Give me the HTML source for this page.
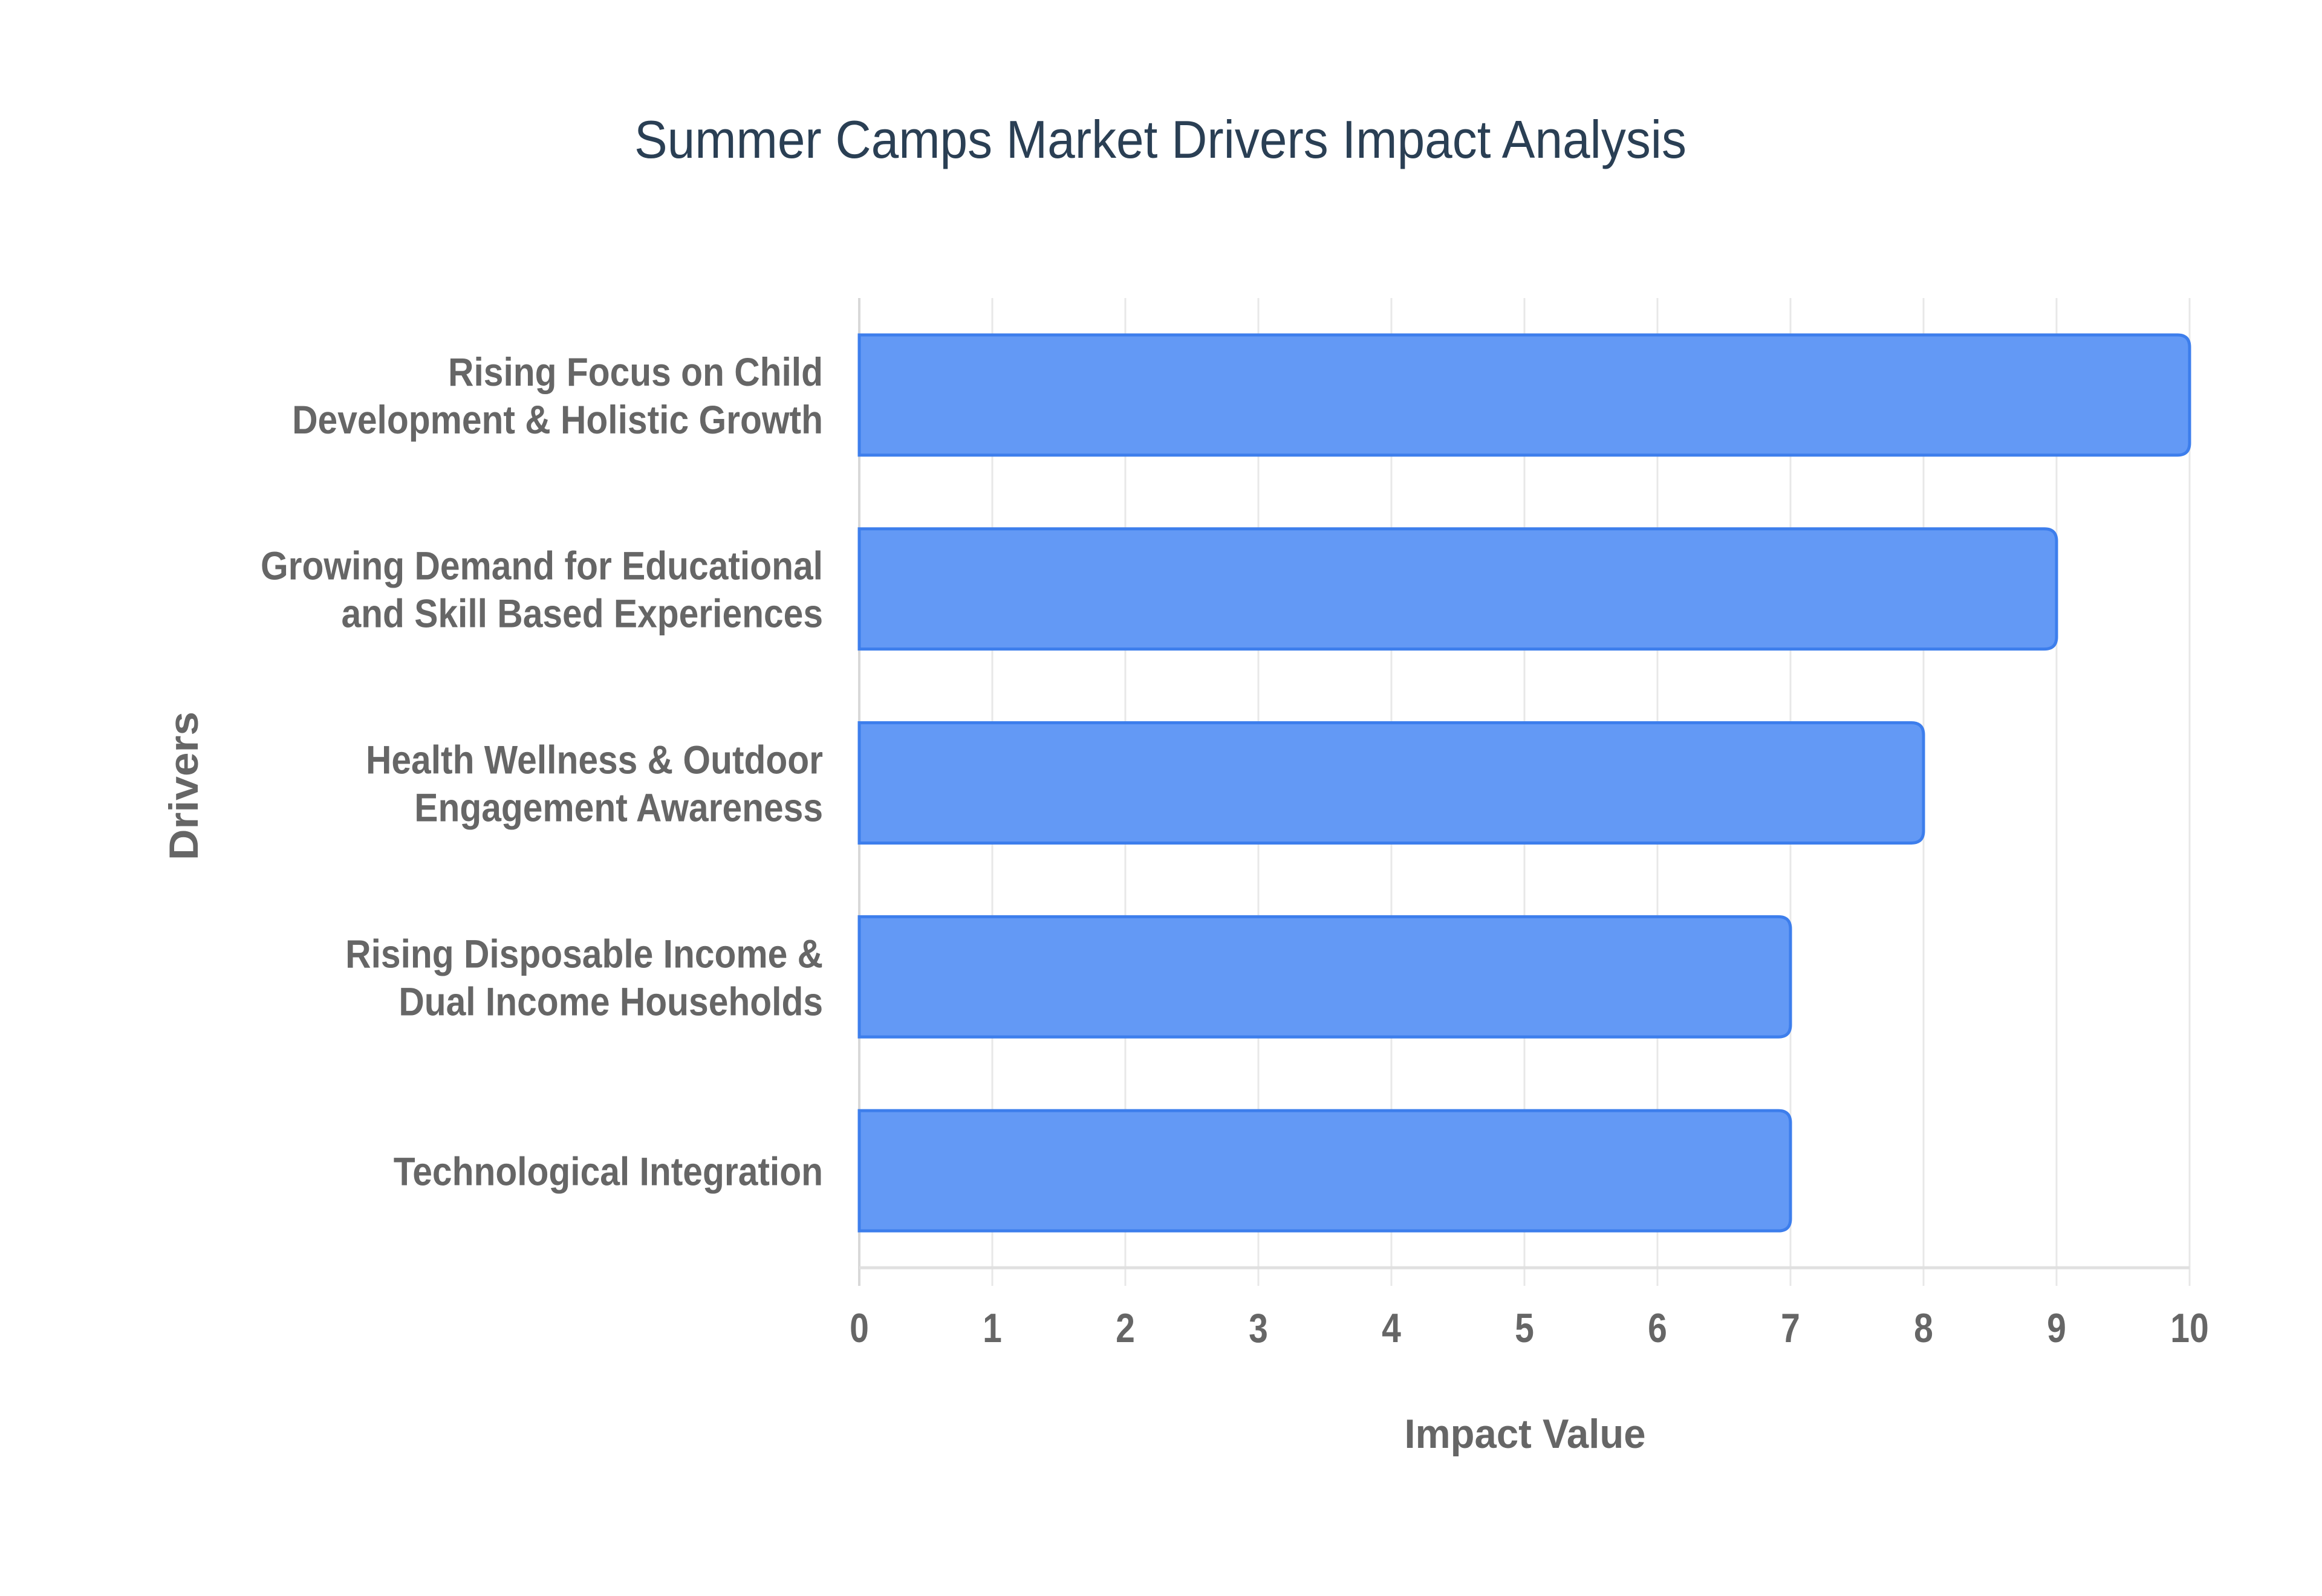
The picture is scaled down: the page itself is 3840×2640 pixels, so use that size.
<!DOCTYPE html>
<html><head><meta charset="utf-8"><style>
html,body{margin:0;padding:0;background:#fff;}
svg{display:block;}
text{font-family:"Liberation Sans",Arial,sans-serif;}
</style></head><body>
<svg id="chart" width="3840" height="2640" viewBox="0 0 3840 2640" xmlns="http://www.w3.org/2000/svg">
<rect width="3840" height="2640" fill="#fff"/>
<text x="1919" y="261" text-anchor="middle" font-size="88" fill="#2a3f54" textLength="1740" lengthAdjust="spacingAndGlyphs">Summer Camps Market Drivers Impact Analysis</text>
<g id="grid"></g>
<g id="bars"></g>
<g id="ylabels"></g>
<g id="xlabels"></g>
<text transform="translate(2522,2395) scale(0.96,1)" text-anchor="middle" font-size="68" font-weight="bold" fill="#666">Impact Value</text>
<text transform="translate(327,1300) rotate(-90) scale(1.05,1)" text-anchor="middle" font-size="68" font-weight="bold" fill="#666">Drivers</text>
</svg>
<script>
const categories = [
  ["Rising Focus on Child", "Development & Holistic Growth"],
  ["Growing Demand for Educational", "and Skill Based Experiences"],
  ["Health Wellness & Outdoor", "Engagement Awareness"],
  ["Rising Disposable Income &", "Dual Income Households"],
  ["Technological Integration"]
];
const values = [10, 9, 8, 7, 7];
const xTicks = [0,1,2,3,4,5,6,7,8,9,10];

const NS = "http://www.w3.org/2000/svg";
const plotL = 1421, plotR = 3621, plotT = 493, plotB = 2097;
const xMin = 0, xMax = 10;
function xScale(v){ return plotL + (v - xMin) / (xMax - xMin) * (plotR - plotL); }
const band = (plotB - plotT) / categories.length;
function yCenter(i){ return plotT + band * (i + 0.5); }
const barH = band * 0.62;
function mk(tag, attrs, parent){
  const e = document.createElementNS(NS, tag);
  for (const k in attrs) e.setAttribute(k, attrs[k]);
  parent.appendChild(e);
  return e;
}
const grid = document.getElementById('grid');
xTicks.forEach(t => {
  const l = mk('line', {x1:xScale(t), x2:xScale(t), y1:plotT, y2:plotB+30, stroke: t===0 ? '#d8d8d8' : '#e8e8e8', 'stroke-width': t===0 ? 4 : 3}, grid);
  
  
});
const axis = mk('line', {x1:plotL, x2:plotR, y1:plotB, y2:plotB, stroke:'#e0e0e0', 'stroke-width':5}, grid);



const bars = document.getElementById('bars');
values.forEach((v, i) => {
  const x0 = xScale(0), x1 = xScale(v), y0 = yCenter(i) - barH/2, y1 = yCenter(i) + barH/2, r = 20;
  const d = `M${x0},${y0} L${x1-r},${y0} Q${x1},${y0} ${x1},${y0+r} L${x1},${y1-r} Q${x1},${y1} ${x1-r},${y1} L${x0},${y1} Z`;
  const p = mk('path', {d:d, fill:'#6399f5', stroke:'#3d7eec', 'stroke-width':5}, bars);
  
  
});

const yl = document.getElementById('ylabels');
categories.forEach((lines, i) => {
  const lh = 79;
  const startBase = yCenter(i) + 24 - (lines.length - 1) * lh / 2;
  lines.forEach((s, j) => {
    const t = mk('text', {transform:`translate(1361,${startBase + j*lh}) scale(0.89,1)`, 'text-anchor':'end', 'font-size':66, 'font-weight':'bold', fill:'#666'}, yl);
    t.textContent = s;
    
    
  });
});

const xl = document.getElementById('xlabels');
xTicks.forEach(t => {
  const e = mk('text', {transform:`translate(${xScale(t)},2220) scale(0.84,1)`, 'text-anchor':'middle', 'font-size':68, 'font-weight':'bold', fill:'#666'}, xl);
  e.textContent = t;
  
  
});
</script>
</body></html>
